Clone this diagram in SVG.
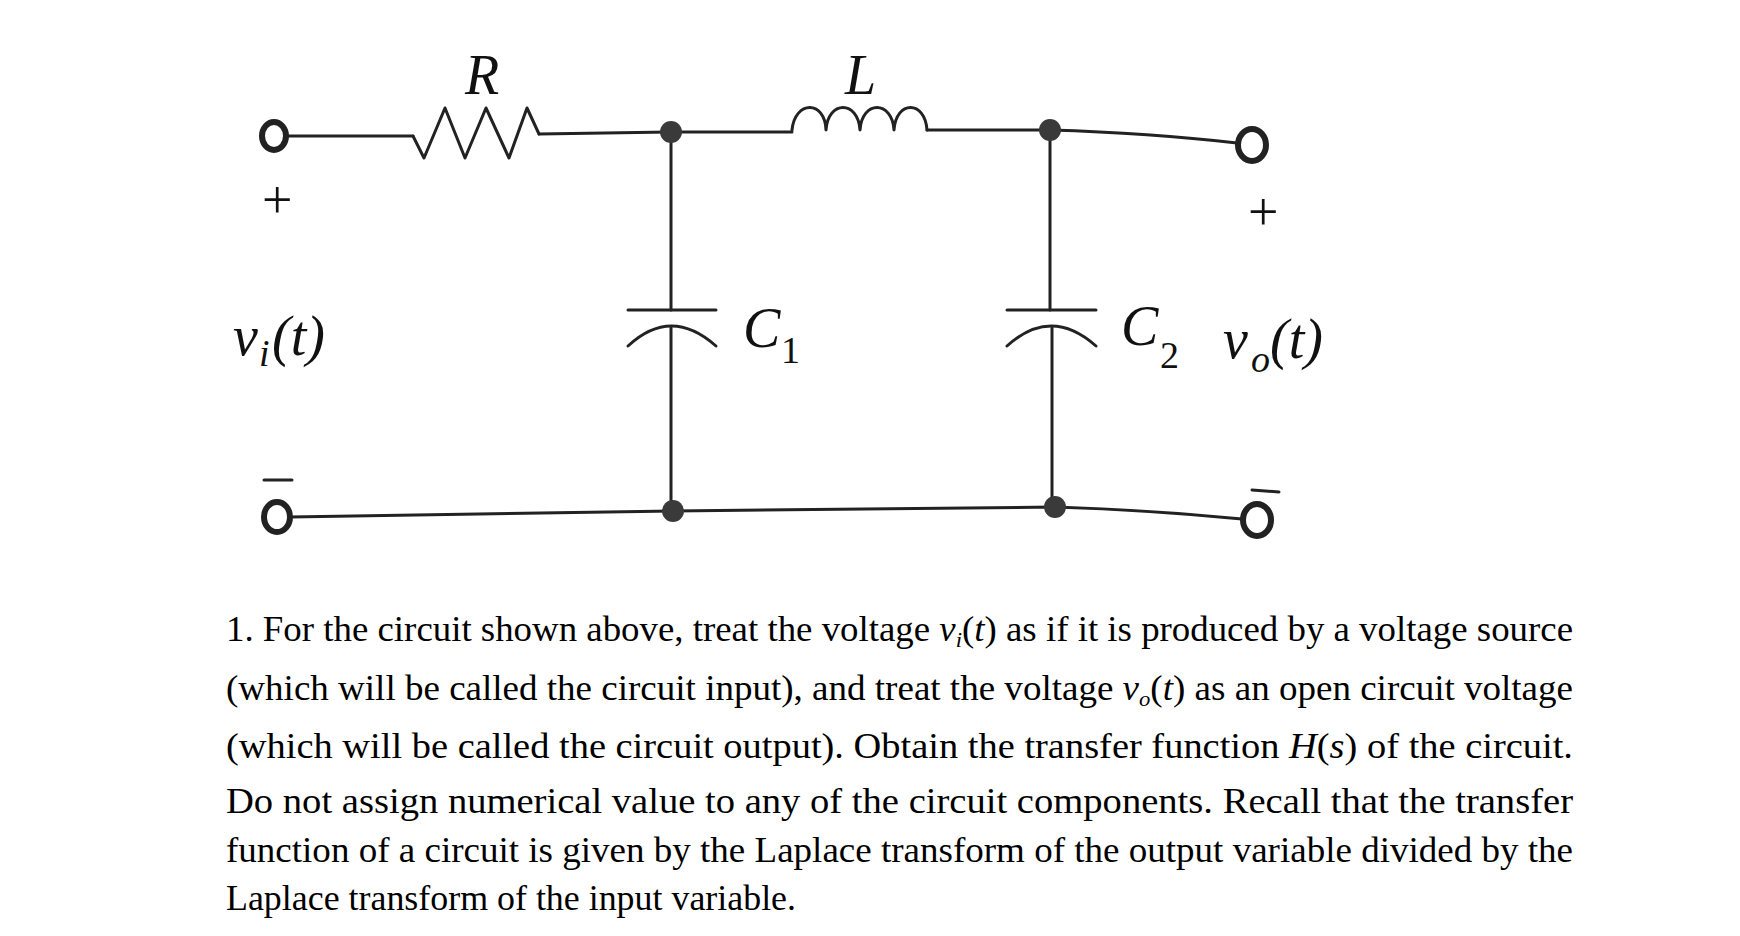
<svg xmlns="http://www.w3.org/2000/svg" width="1740" height="936" viewBox="0 0 1740 936">
<style>
.w{fill:none;stroke:#222;stroke-width:3;stroke-linecap:round;stroke-linejoin:round}
.t{fill:none;stroke:#222;stroke-width:6}
.n{fill:#3a3a3a}
.lb{font-family:"Liberation Serif","DejaVu Serif",serif;font-style:italic;font-size:56px;fill:#111}
.sub{font-family:"Liberation Serif","DejaVu Serif",serif;font-size:38px;fill:#111}
.sg{font-family:"Liberation Serif",serif;font-size:54px;fill:#111}
.tx{font-family:"Liberation Serif",serif;font-size:36px;fill:#000}
.i{font-style:italic}
</style>
<rect width="1740" height="936" fill="#fff"/>
<g id="connectors">
<path class="w" d="M288,136 H413 M539,134 L670,132 H792 M927,130 L1050,130 Q1150,133 1237,143"/>
<path class="w" d="M290,517 L673,511 L1055,507 Q1150,510 1242,519"/>
<path class="w" d="M671,132 V310 M671,328 V511"/>
<path class="w" d="M1050,130 V310 M1052,328 V507"/>
</g>
<g id="R"><path class="w" d="M413,136 L424,158 L445,108 L465,158 L486,108 L509,158 L527,108 L539,134"/><text class="lb" x="465" y="94">R</text></g>
<g id="L"><path class="w" d="M792,130 C795,100 825,100 826,130 C828,100 858,100 860,130 C862,100 892,100 894,130 C896,100 925,100 927,130"/><text class="lb" x="845" y="94">L</text></g>
<g id="C1"><path class="w" d="M628,310 H716" stroke-width="5"/><path class="w" d="M628,346 Q671,306 716,346" stroke-width="5"/><text class="lb" x="743" y="347">C</text><text class="sub" x="781" y="363">1</text></g>
<g id="C2"><path class="w" d="M1007,310 H1096" stroke-width="5"/><path class="w" d="M1007,346 Q1051,306 1096,346" stroke-width="5"/><text class="lb" x="1121" y="345">C</text><text class="sub" x="1160" y="368">2</text></g>
<g id="nodes"><circle class="n" cx="671" cy="132" r="11"/><circle class="n" cx="1050" cy="130" r="11"/><circle class="n" cx="673" cy="511" r="11"/><circle class="n" cx="1055" cy="507" r="11"/></g>
<g id="in">
<ellipse class="t" cx="274" cy="136" rx="12" ry="14"/><ellipse class="t" cx="277" cy="517" rx="13" ry="15"/>
<text class="sg" x="262" y="218">+</text><path class="w" d="M264,480 H292"/>
<text class="lb" x="233" y="355">v</text><text class="sub i" x="259" y="366">i</text><text class="lb" x="272" y="355">(t)</text>
</g>
<g id="out">
<ellipse class="t" cx="1252" cy="145" rx="14" ry="16"/><ellipse class="t" cx="1257" cy="520" rx="14" ry="16"/>
<text class="sg" x="1248" y="230">+</text><path class="w" d="M1252,490 L1279,492"/>
<text class="lb" x="1223" y="358">v</text><text class="sub i" x="1251" y="372">o</text><text class="lb" x="1270" y="358">(t)</text>
</g>
<g id="text">
<text class="tx" x="226" y="641" textLength="1347" lengthAdjust="spacingAndGlyphs">1. For the circuit shown above, treat the voltage <tspan class="i">v</tspan><tspan class="i" font-size="22" dy="6">i</tspan><tspan dy="-6">(</tspan><tspan class="i">t</tspan>) as if it is produced by a voltage source</text>
<text class="tx" x="226" y="700" textLength="1347" lengthAdjust="spacingAndGlyphs">(which will be called the circuit input), and treat the voltage <tspan class="i">v</tspan><tspan class="i" font-size="22" dy="6">o</tspan><tspan dy="-6">(</tspan><tspan class="i">t</tspan>) as an open circuit voltage</text>
<text class="tx" x="226" y="758" textLength="1347" lengthAdjust="spacingAndGlyphs">(which will be called the circuit output).  Obtain the transfer function <tspan class="i">H</tspan>(<tspan class="i">s</tspan>) of the circuit.</text>
<text class="tx" x="226" y="813" textLength="1347" lengthAdjust="spacingAndGlyphs">Do not assign numerical value to any of the circuit components.  Recall that the transfer</text>
<text class="tx" x="226" y="862" textLength="1347" lengthAdjust="spacingAndGlyphs">function of a circuit is given by the Laplace transform of the output variable divided by the</text>
<text class="tx" x="226" y="910" textLength="570" lengthAdjust="spacingAndGlyphs">Laplace transform of the input variable.</text>
</g>
</svg>
